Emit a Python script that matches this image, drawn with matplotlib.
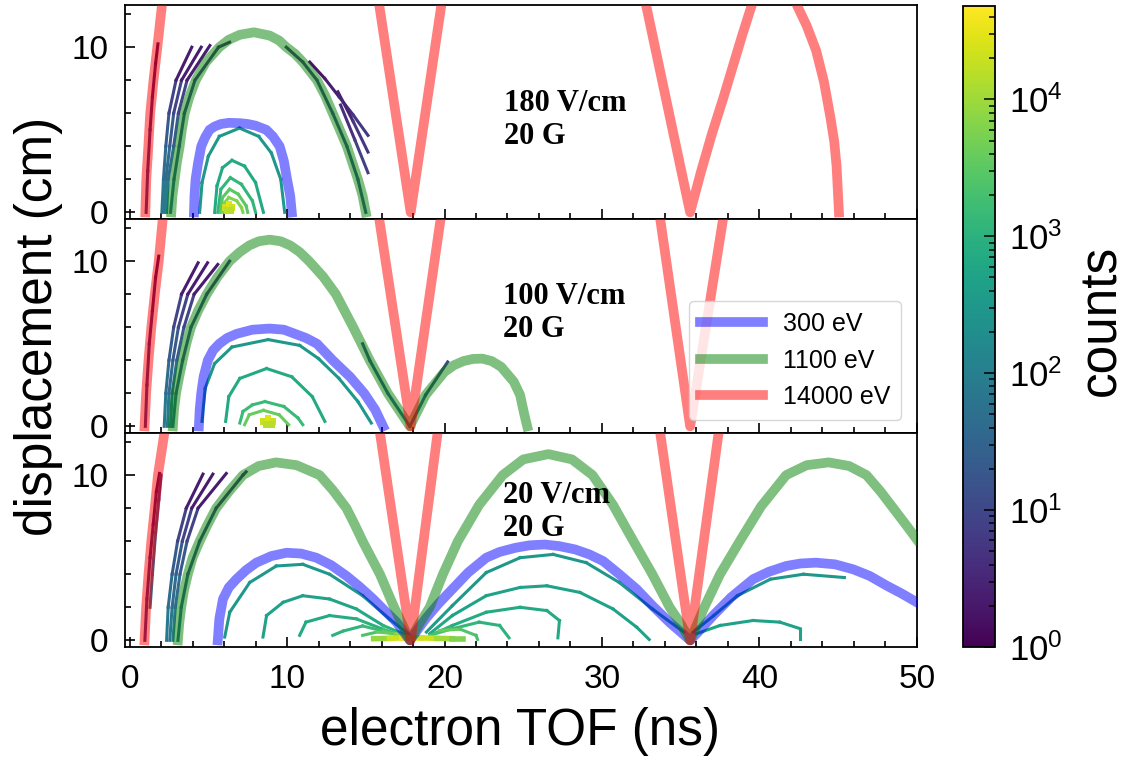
import numpy as np
import matplotlib
matplotlib.use('Agg')
import matplotlib.pyplot as plt
from matplotlib.collections import LineCollection
from matplotlib.colors import LogNorm
from matplotlib.ticker import MultipleLocator

plt.rcParams['font.family'] = ['Liberation Sans', 'DejaVu Sans']
plt.rcParams['mathtext.fontset'] = 'custom'
plt.rcParams['mathtext.rm'] = 'Liberation Sans'
plt.rcParams['mathtext.it'] = 'Liberation Sans:italic'
plt.rcParams['mathtext.bf'] = 'Liberation Sans:bold'

nan = np.nan

# --- simulated trajectories (lines) ---
# 180 V/cm
e180_300_t = [4.09, 4.12, 4.19, 4.35, 4.55, 4.8, 5.08, 5.4, 5.8, 6.3, 7.0, 7.5, 8.0, 8.4, 8.68, 9.1,
              9.53, 9.8, 10.0, 10.2, 10.3]
e180_300_y = [0, 1, 2, 3, 4, 4.55, 5, 5.2, 5.35, 5.42, 5.4, 5.35, 5.25, 5.1, 5.0, 4.6,
              4.0, 3.1, 2.0, 1.0, 0]
e180_1100_t = [2.65, 2.72, 2.86, 3.0, 3.18, 3.32, 3.5, 3.8, 4.2, 4.85, 5.7, 6.3, 7.0, 7.9, 8.9, 9.5,
               9.95, 10.5, 11.0, 11.9, 12.4, 12.9, 13.8, 14.5, 14.8, 15.0]
e180_1100_y = [0, 1, 2, 3, 4, 5, 6, 7, 8, 9.1, 10, 10.45, 10.75, 10.9, 10.7, 10.4,
               10.0, 9.6, 9.1, 8, 7.1, 6, 4, 2, 1, 0]
e180_14000_t = [1.0, 1.06, 1.19, 1.31, 1.52, 1.76, 2.05, 2.1, nan,
                15.75, 17.85, 19.9, nan,
                32.7, 35.6, 36.3, 37.0, 37.7, 38.3, 38.9, 39.5, 39.65, nan,
                42.25, 42.4, 43.0, 43.6, 44.1, 44.5, 44.75, 44.9, 45.05]
e180_14000_y = [0, 2, 4, 6, 8, 10, 12.5, 13.0, nan,
                13.2, 0, 13.2, nan,
                13.0, 0, 2.5, 4.8, 6.9, 8.8, 10.7, 12.5, 13.0, nan,
                13.0, 12.5, 11.3, 9.8, 7.9, 5.8, 4.3, 2.8, 0]

# 100 V/cm
e100_300_t = [4.4, 4.45, 4.55, 4.7, 4.97, 5.3, 5.7, 6.2, 6.8, 7.8, 8.9, 9.8, 10.5, 11.2, 11.9, 12.9,
              14.0, 14.9, 15.6, 16.1]
e100_300_y = [0, 1, 2, 3, 4, 4.6, 5.0, 5.35, 5.6, 5.85, 5.92, 5.85, 5.6, 5.35, 5.0, 4.0,
              3.0, 2.0, 1.0, 0]
e100_1100_t = [2.75, 2.82, 2.95, 3.15, 3.37, 3.6, 3.9, 4.35, 4.9, 5.55, 6.35, 7.0, 7.6, 8.2, 8.9, 9.6,
               10.2, 10.8, 11.4, 12.3, 13.1, 14.2, 15.25, 16.4, 17.8,
               18.8, 20.0, 20.6, 21.2, 21.8, 22.4, 23.0, 23.6, 24.4, 24.8, 25.05, 25.25]
e100_1100_y = [0, 1, 2, 3, 4, 5, 6, 7, 8, 9, 10, 10.55, 10.95, 11.2, 11.3, 11.2,
               10.95, 10.55, 10, 9.05, 8, 6, 4, 2, 0,
               1.9, 3.3, 3.7, 3.95, 4.08, 4.1, 3.95, 3.6, 2.7, 1.9, 0.8, 0]
e100_14000_t = [0.95, 1.05, 1.2, 1.38, 1.6, 1.85, 2.1, 2.15, nan,
                15.75, 17.85, 19.85, nan,
                33.6, 35.6, 37.8]
e100_14000_y = [0, 2, 4, 6, 8, 10, 12.5, 13.0, nan,
                13.2, 0, 13.2, nan,
                13.2, 0, 13.2]

# 20 V/cm
e20_300_t = [5.6, 5.7, 5.93, 6.3, 6.78, 7.4, 8.05, 9.0, 9.96, 10.9, 11.86, 12.8, 13.77, 14.6, 15.47,
             16.2, 16.95, 17.8,
             18.8, 19.6, 20.5, 21.5, 22.65, 23.5, 24.5, 25.4, 26.37, 27.3, 28.3, 29.2, 30.07, 31.1,
             32.2, 33.2, 34.3, 35.0, 35.6,
             36.2, 37.06, 38.2, 39.6, 40.6, 41.7, 42.6, 43.6, 44.8, 45.95, 47.0, 48.1, 49.0, 50.0]
e20_300_y = [0, 1.3, 2.5, 3.2, 3.7, 4.25, 4.7, 5.1, 5.3, 5.25, 5.0, 4.55, 3.9, 3.25, 2.5,
             1.8, 1.1, 0,
             1.3, 2.2, 3.1, 4.1, 5.0, 5.35, 5.6, 5.75, 5.8, 5.7, 5.5, 5.2, 4.8, 4.0,
             3.1, 2.1, 1.08, 0.5, 0,
             0.6, 1.5, 2.6, 3.7, 4.15, 4.5, 4.65, 4.7, 4.6, 4.3, 3.9, 3.3, 2.85, 2.3]
e20_1100_t = [3.07, 3.15, 3.28, 3.45, 3.7, 4.0, 4.45, 4.95, 5.5, 6.3, 7.2, 8.2, 9.3, 10.6, 12.07,
              12.9, 13.77, 14.3, 14.8, 15.35, 15.9, 16.35, 16.8, 17.3, 17.8,
              18.4, 19.06, 19.9, 20.85, 22.2, 23.7, 25.0, 26.6, 28.1, 29.4, 30.7, 32.0, 33.2, 34.3,
              35.0, 35.6,
              36.5, 37.5, 38.75, 40.1, 41.7, 43.0, 44.4, 45.7, 46.8, 47.7, 48.5, 49.3, 50.0]
e20_1100_y = [0, 1, 2, 3, 4, 5, 6, 7, 8, 9, 10, 10.55, 10.77, 10.6, 10,
              9.1, 8, 7, 6, 5, 4, 3, 2, 1, 0,
              1, 2, 4, 6, 8.2, 10, 10.95, 11.27, 10.95, 10, 8.2, 6, 4, 2,
              1, 0,
              2, 4, 6, 8.1, 10, 10.6, 10.77, 10.55, 10, 9.0, 8, 7.0, 6.1]
e20_14000_t = [0.95, 1.05, 1.2, 1.38, 1.6, 1.8, 2.2, 2.25, nan,
               15.8, 17.85, 19.65, nan,
               33.6, 35.6, 37.5]
e20_14000_y = [0, 2, 4, 6, 8, 10, 12.5, 13.0, nan,
               13.2, 0, 13.2, nan,
               13.2, 0, 13.2]

# --- measured histogram traces (t, displacement, counts) ---
top_streak = ([1.05, 1.15, 1.3, 1.45, 1.65, 1.8], [0, 2.5, 5, 7, 9, 10.2], [5, 4, 3, 2, 1.5, 1])
top_a1 = ([2.05, 2.15, 2.3, 2.5, 2.95, 3.95], [0, 2, 4, 6, 8, 10.0], [100, 60, 30, 15, 5, 1])
top_a2 = ([2.2, 2.3, 2.55, 2.8, 3.3, 4.55], [0, 2, 4, 6, 8, 10.0], [100, 60, 30, 15, 5, 1])
top_a3 = ([2.35, 2.45, 2.8, 3.1, 3.65, 5.1], [0, 2, 4, 6, 8, 10.1], [100, 60, 30, 15, 5, 1])
top_a4 = ([2.6, 2.82, 3.15, 3.48, 4.15, 5.65, 6.35], [0, 2, 4, 6, 8, 10, 10.3], [60, 30, 15, 10, 6, 4, 3])
top_g = ([9.95, 11.0, 11.9, 12.9, 13.8, 14.5, 15.0], [10, 9.1, 8, 6, 4, 2, 0], [4, 6, 8, 10, 12, 15, 20])
top_r1 = ([11.44, 12.4, 13.3, 14.2, 15.14], [9.1, 8.1, 7.0, 5.9, 4.66], [1.5, 2, 3, 5, 8])
top_r2 = ([13.23, 14.2, 15.14], [7.3, 5.5, 3.65], [2, 4, 8])
top_r3 = ([13.4, 14.3, 15.14], [6.5, 4.4, 2.4], [3, 6, 10])
top_c1 = ([4.45, 4.6, 5.0, 5.7, 6.98, 8.2, 9.0, 9.6, 9.85], [0, 1.8, 3.4, 4.6, 5.1, 4.6, 3.6, 2.0, 0],
          [400, 300, 300, 300, 300, 300, 300, 300, 400])
top_c2 = ([5.4, 5.55, 5.9, 6.5, 7.3, 8.0, 8.5], [0, 1.6, 2.7, 3.15, 2.8, 1.8, 0], [700] * 7)
top_c3 = ([5.6, 5.8, 6.4, 7.1, 7.8, 8.0], [0, 1.4, 2.1, 1.7, 0.7, 0], [1200] * 6)
top_c4 = ([5.75, 5.9, 6.35, 6.9, 7.4, 7.5], [0, 0.9, 1.4, 1.1, 0.4, 0], [3000] * 6)
top_c5 = ([5.9, 6.05, 6.3, 6.8, 7.1, 7.2], [0, 0.6, 0.9, 0.7, 0.3, 0], [6000] * 6)
top_blob = ([6.1, 6.3, 6.5, 6.2, 6.4], [0.3, 0.5, 0.3, 0.1, 0.1], [20000, 30000, 20000, 15000, 15000])

mid_streak = ([1.0, 1.1, 1.25, 1.45, 1.65, 1.85], [0, 2.5, 5, 7, 9, 10.3], [5, 4, 3, 2, 1.5, 1])
mid_a1 = ([2.2, 2.3, 2.5, 2.8, 3.3, 4.35], [0, 2, 4, 6, 8, 9.9], [100, 60, 30, 15, 5, 1])
mid_a2 = ([2.4, 2.5, 2.75, 3.1, 3.7, 4.95], [0, 2, 4, 6, 8, 9.9], [100, 60, 30, 15, 5, 1])
mid_a3 = ([2.6, 2.7, 3.0, 3.45, 4.1, 5.6], [0, 2, 4, 6, 8, 9.8], [100, 60, 30, 15, 5, 1])
mid_a4 = ([2.75, 2.95, 3.37, 3.9, 4.9, 6.35], [0, 2, 4, 6, 8, 10], [60, 30, 15, 10, 6, 4])
mid_g = ([14.8, 15.25, 16.4, 17.8, 18.8, 20.2], [5.0, 4, 2, 0, 1.9, 3.9], [10, 15, 20, 30, 15, 8])
mid_c1 = ([4.6, 4.8, 5.4, 6.5, 8.8, 10.8, 12.0, 13.3, 14.5, 15.35],
          [0.3, 2.3, 3.8, 4.8, 5.25, 4.9, 4.1, 2.9, 1.5, 0.2], [300] * 10)
mid_c2 = ([6.1, 6.3, 7.0, 8.7, 10.3, 11.6, 12.4], [0.3, 1.8, 2.9, 3.5, 3.0, 1.8, 0.3], [700] * 7)
mid_c3 = ([7.0, 7.2, 7.8, 8.6, 9.8, 10.7, 11.0], [0.2, 0.9, 1.3, 1.5, 1.2, 0.5, 0.1], [1500] * 7)
mid_c4 = ([7.3, 7.6, 8.5, 9.5, 10.1], [0.1, 0.7, 0.97, 0.7, 0.1], [4000] * 5)
mid_blob = ([8.5, 8.8, 9.1, 8.7, 9.0], [0.3, 0.5, 0.3, 0.1, 0.1], [20000, 30000, 20000, 15000, 15000])

bot_streak = ([0.97, 1.1, 1.3, 1.5, 1.7, 1.9], [0, 2.5, 5, 7, 9, 10.1], [5, 4, 3, 2, 1.5, 1])
bot_streak2 = ([1.3, 1.45, 1.65, 1.85, 2.0], [2.0, 4.0, 6.5, 8.5, 10.0], [60, 40, 20, 8, 3])
bot_a1 = ([2.35, 2.45, 2.7, 3.05, 3.6, 4.66], [0, 2, 4, 6, 8, 10.06], [100, 60, 30, 15, 5, 1])
bot_a2 = ([2.55, 2.7, 2.95, 3.35, 3.95, 5.29], [0, 2, 4, 6, 8, 10.06], [100, 60, 30, 15, 5, 1])
bot_a3 = ([2.75, 2.9, 3.2, 3.65, 4.35, 6.14], [0, 2, 4, 6, 8, 10.1], [100, 60, 30, 15, 5, 1])
bot_a4 = ([3.07, 3.28, 3.7, 4.45, 5.5, 7.2, 7.4], [0, 2, 4, 6, 8, 10, 10.2], [60, 30, 15, 10, 6, 4, 3])
bot_s1 = ([6.04, 6.36, 7.63, 9.32, 11.0, 12.7, 14.8, 16.5, 17.8],
          [0.2, 1.7, 3.5, 4.5, 4.6, 4.0, 2.7, 1.3, 0.3], [300, 300, 300, 300, 300, 300, 300, 400, 800])
bot_s2 = ([8.47, 8.7, 9.75, 11.0, 12.7, 14.4, 16.1, 17.6],
          [0.2, 1.5, 2.3, 2.7, 2.5, 1.9, 0.9, 0.3], [500, 500, 500, 500, 500, 600, 800, 1500])
bot_s3 = ([10.8, 11.2, 12.7, 14.4, 16.1, 17.6], [0.3, 1.1, 1.5, 1.3, 0.67, 0.2], [700, 700, 700, 800, 1200, 3000])
bot_s4 = ([12.9, 13.56, 14.8, 16.1, 17.4], [0.3, 0.56, 0.87, 0.56, 0.2], [1000, 1000, 1200, 2000, 5000])
bot_s5 = ([14.8, 15.7, 16.9, 17.8], [0.3, 0.5, 0.4, 0.2], [2000, 2500, 5000, 10000])
bot_r1 = ([18.85, 20.5, 22.65, 24.8, 26.9, 29.0, 31.1, 33.2, 35.2],
          [0.5, 2.1, 4.1, 5.0, 5.2, 4.7, 3.5, 1.9, 0.5], [500, 300, 300, 300, 300, 300, 300, 300, 400])
bot_r2 = ([19.06, 20.5, 22.65, 24.8, 26.5, 28.6, 30.7, 32.2, 33.0],
          [0.4, 1.5, 2.7, 3.2, 3.3, 2.9, 1.9, 0.8, 0.05], [800, 500, 500, 500, 500, 500, 500, 500, 500])
bot_r3 = ([19.1, 20.5, 22.65, 24.8, 26.5, 27.3, 27.2], [0.3, 0.9, 1.7, 2.0, 1.8, 1.2, 0.15], [1500, 800, 700, 700, 700, 700, 700])
bot_r4 = ([19.06, 20.5, 22.2, 23.5, 24.1], [0.3, 0.7, 1.1, 0.9, 0.15], [3000, 1500, 1000, 1000, 1000])
bot_r5 = ([19.7, 21.0, 22.0, 22.1], [0.6, 0.67, 0.3, 0.05], [5000, 3000, 2000, 2000])
bot_t1 = ([35.8, 37.1, 38.6, 40.7, 42.8, 45.4], [0.5, 1.5, 2.7, 3.7, 4.0, 3.8], [400, 300, 300, 300, 300, 300])
bot_t2 = ([36.0, 37.5, 39.6, 41.3, 42.6, 42.6], [0.4, 0.9, 1.2, 1.1, 0.7, 0.1], [600, 500, 500, 500, 500, 500])
bot_glow = ([15.5, 16.5, 17.3, 17.8, 18.5, 19.5, 20.5, 21.2],
            [0.1, 0.12, 0.15, 0.15, 0.15, 0.12, 0.1, 0.1],
            [5000, 15000, 30000, 45000, 30000, 15000, 8000, 5000])

panel_text = ['180 V/cm\n20 G', '100 V/cm\n20 G', '20 V/cm\n20 G']
panel_text_pos = [(23.8, 5.6), (23.7, 6.85), (23.7, 7.75)]

norm = LogNorm(vmin=1, vmax=4.8e4)
cmap = plt.get_cmap('viridis')


def draw_trace(ax, trace, lw=2.2):
    t, y, c = trace
    pts = np.column_stack([t, y])
    segs = np.stack([pts[:-1], pts[1:]], axis=1)
    c = np.asarray(c, dtype=float)
    lc = LineCollection(segs, cmap=cmap, norm=norm, linewidths=lw,
                        capstyle='projecting', joinstyle='round', zorder=2)
    lc.set_array(np.sqrt(c[:-1] * c[1:]))
    ax.add_collection(lc)


def draw_blob(ax, blob):
    t, y, c = blob
    ax.scatter(t, y, c=c, cmap=cmap, norm=norm, marker='s', s=22, linewidths=0, zorder=2)


fig, axes = plt.subplots(3, 1, sharex=True, figsize=(11.25, 7.62), dpi=100,
                         gridspec_kw=dict(hspace=0))
fig.subplots_adjust(left=0.111, right=0.815, top=0.9934, bottom=0.151)

traces = [
    [top_streak, top_a1, top_a2, top_a3, top_a4, top_g, top_r1, top_r2, top_r3,
     top_c1, top_c2, top_c3, top_c4, top_c5],
    [mid_streak, mid_a1, mid_a2, mid_a3, mid_a4, mid_g, mid_c1, mid_c2, mid_c3, mid_c4],
    [bot_streak, bot_streak2, bot_a1, bot_a2, bot_a3, bot_a4, bot_s1, bot_s2, bot_s3, bot_s4, bot_s5,
     bot_r1, bot_r2, bot_r3, bot_r4, bot_r5, bot_t1, bot_t2],
]
lines = [
    (e180_300_t, e180_300_y, e180_1100_t, e180_1100_y, e180_14000_t, e180_14000_y),
    (e100_300_t, e100_300_y, e100_1100_t, e100_1100_y, e100_14000_t, e100_14000_y),
    (e20_300_t, e20_300_y, e20_1100_t, e20_1100_y, e20_14000_t, e20_14000_y),
]

for i, ax in enumerate(axes):
    for tr in traces[i]:
        draw_trace(ax, tr)
    bt, by, gt, gy, rt, ry = lines[i]
    ax.plot(bt, by, color='blue', alpha=0.5, lw=7, label='300 eV', zorder=3)
    ax.plot(gt, gy, color='green', alpha=0.5, lw=7, label='1100 eV', zorder=3)
    ax.plot(rt, ry, color='red', alpha=0.5, lw=7, label='14000 eV', zorder=3)
    ax.text(panel_text_pos[i][0], panel_text_pos[i][1], panel_text[i],
            family='Liberation Serif', fontweight='bold', fontsize=22,
            ha='left', va='center', linespacing=1.2, zorder=4)

    ax.set_xlim(-0.3, 50)
    ax.set_ylim(-0.4, 12.55)
    ax.xaxis.set_major_locator(MultipleLocator(10))
    ax.xaxis.set_minor_locator(MultipleLocator(2))
    ax.yaxis.set_major_locator(MultipleLocator(10))
    ax.yaxis.set_minor_locator(MultipleLocator(2))
    ax.tick_params(which='both', direction='in', top=False, right=False,
                   labelsize=24, pad=12, width=1.2)
    ax.tick_params(which='major', length=7)
    ax.tick_params(which='minor', length=4)
    for s in ax.spines.values():
        s.set_linewidth(1.3)

draw_blob(axes[0], top_blob)
draw_blob(axes[1], mid_blob)
draw_trace(axes[2], bot_glow, lw=4)

axes[1].legend(loc='lower right', bbox_to_anchor=(0.996, 0.0), fontsize=18,
               handlelength=2.5, labelspacing=0.5, borderpad=0.45, framealpha=0.8)

fig.text(0.034, 0.572, 'displacement (cm)', rotation=90, ha='center', va='center', fontsize=37)
fig.text(0.462, 0.022, 'electron TOF (ns)', ha='center', va='baseline', fontsize=37)

cax = fig.add_axes([0.856, 0.151, 0.0284, 0.841])
sm = plt.cm.ScalarMappable(norm=norm, cmap=cmap)
cb = fig.colorbar(sm, cax=cax)
cb.ax.tick_params(which='both', direction='in', labelsize=25, pad=10, width=1.1)
cb.ax.tick_params(which='major', length=8)
cb.ax.tick_params(which='minor', length=4)
cb.outline.set_linewidth(1.3)
fig.text(0.979, 0.58, 'counts', rotation=90, ha='center', va='center', fontsize=37)

fig.savefig('out.png', dpi=100)
